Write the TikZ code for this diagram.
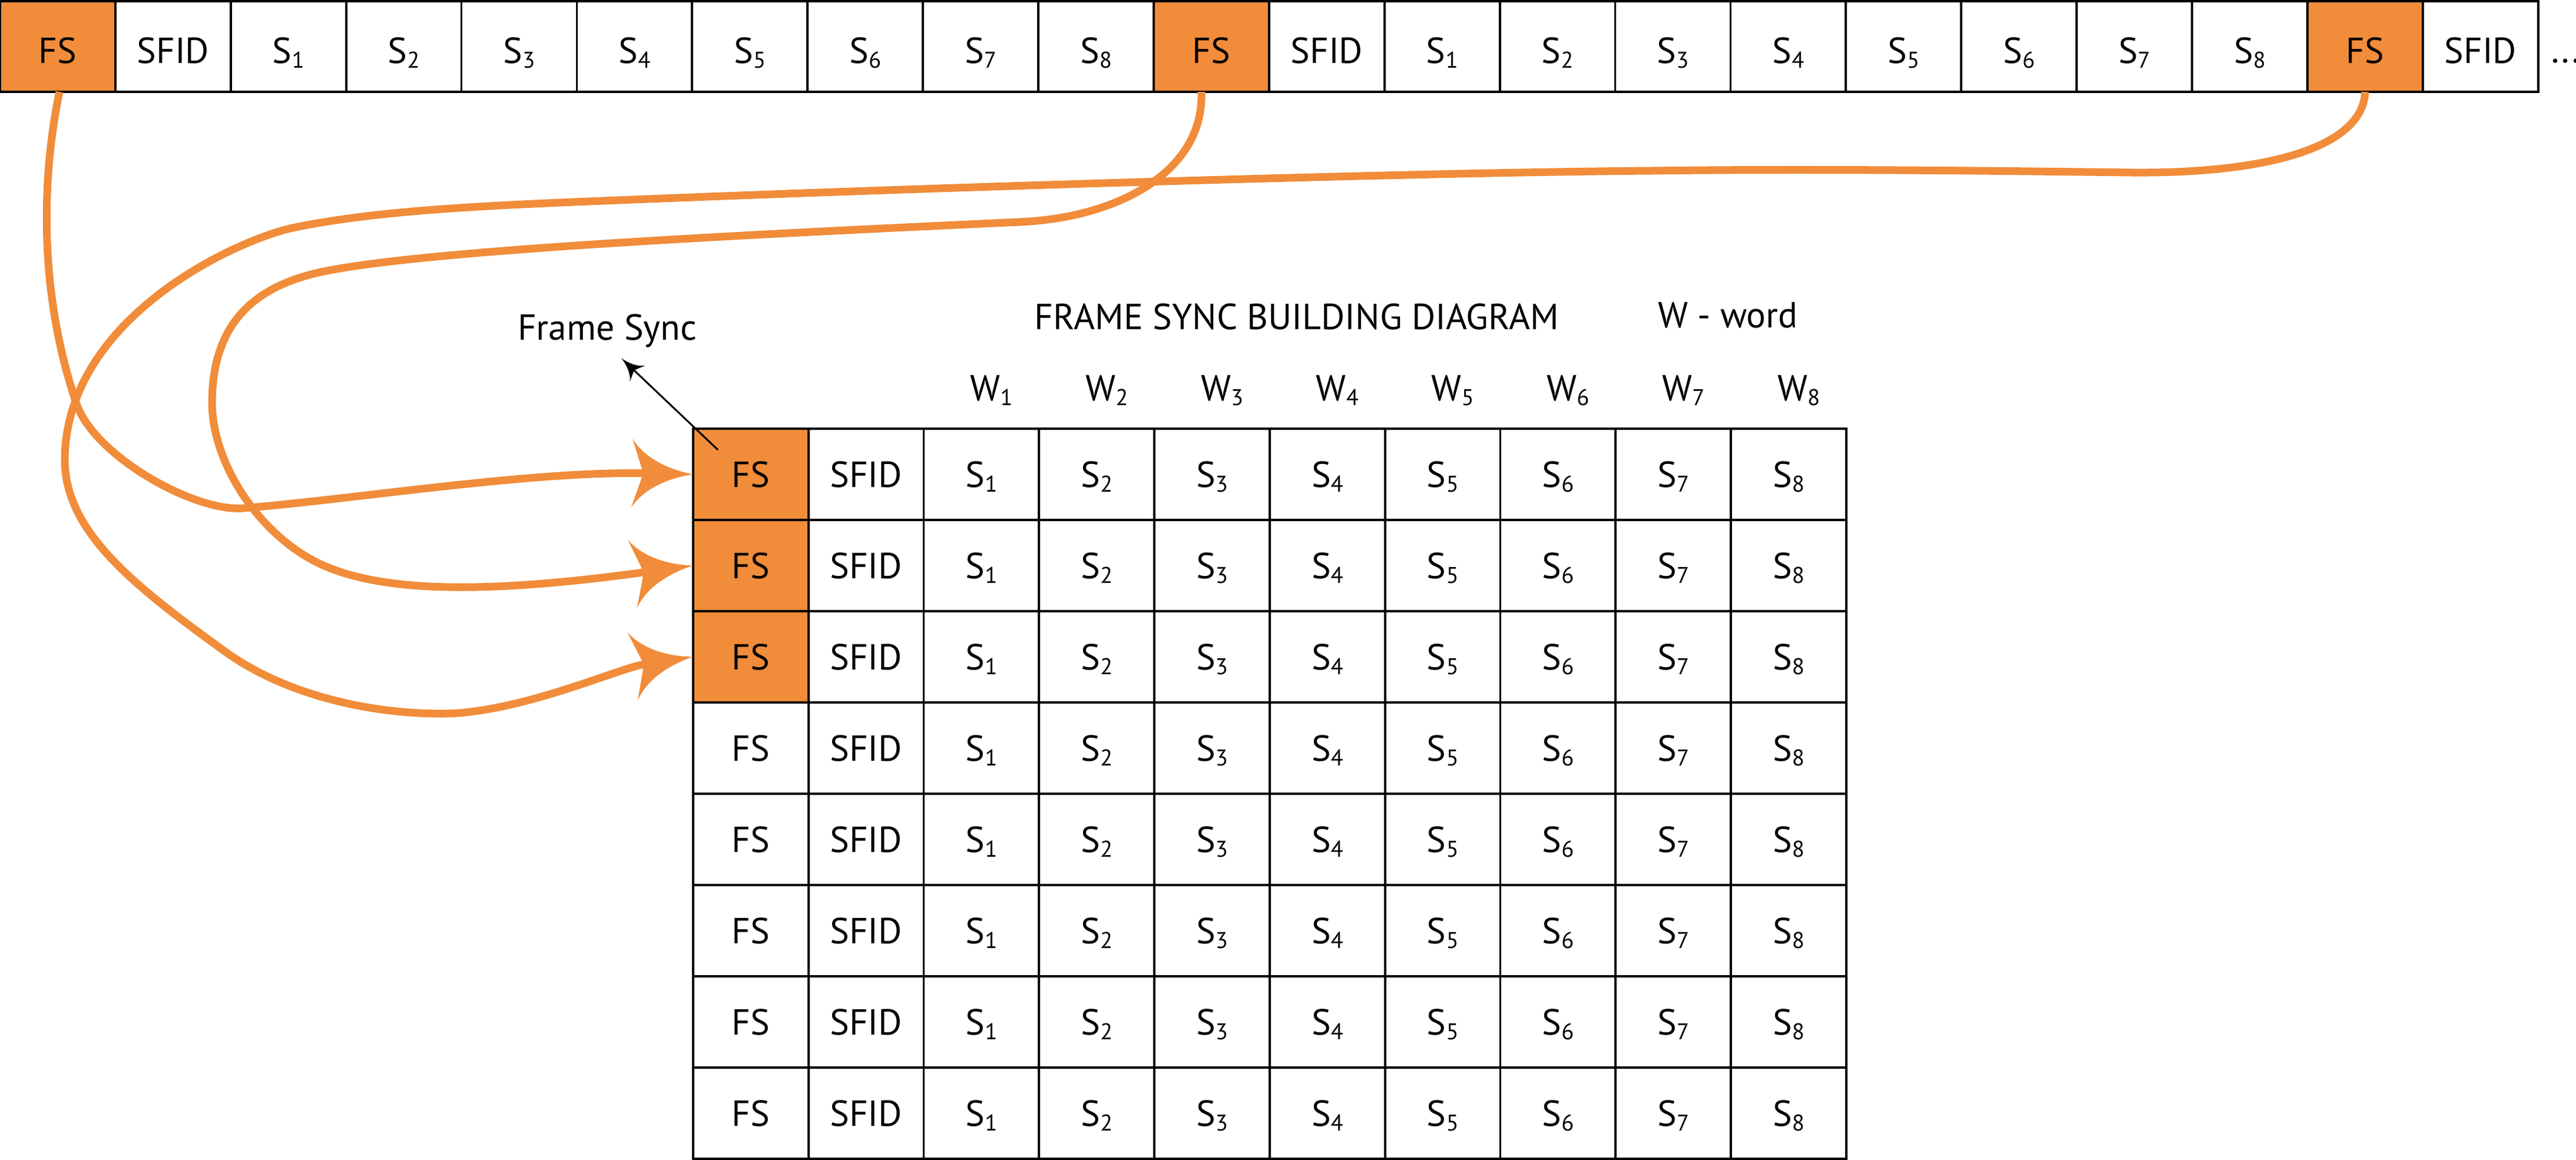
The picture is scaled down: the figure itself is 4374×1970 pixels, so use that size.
\documentclass[tikz,border=0pt]{standalone}
\usepackage{fontspec}
\setmainfont{PT Sans}
\usetikzlibrary{arrows.meta}
\definecolor{fsorange}{HTML}{F18C3A}

\pgfdeclarearrow{
  name = Swept,
  parameters = {\the\pgfarrowlength,\the\pgfarrowwidth,\the\pgfarrowinset},
  setup code = {
    \pgfarrowssettipend{\pgfarrowlength}
    \pgfarrowssetbackend{0pt}
    \pgfarrowssetlineend{\pgfarrowinset}
    \pgfarrowssetvisualbackend{\pgfarrowinset}
    \pgfarrowshullpoint{\pgfarrowlength}{0pt}
    \pgfarrowsupperhullpoint{0pt}{.5\pgfarrowwidth}
    \pgfarrowssavethe\pgfarrowlength
    \pgfarrowssavethe\pgfarrowwidth
    \pgfarrowssavethe\pgfarrowinset
  },
  drawing code = {
    \pgfpathmoveto{\pgfqpoint{\pgfarrowlength}{0pt}}
    \pgfpathcurveto{\pgfqpoint{.6\pgfarrowlength}{.06\pgfarrowwidth}}{\pgfqpoint{.2\pgfarrowlength}{.22\pgfarrowwidth}}{\pgfqpoint{0pt}{.5\pgfarrowwidth}}
    \pgfpathcurveto{\pgfqpoint{.4\pgfarrowinset}{.3\pgfarrowwidth}}{\pgfqpoint{.8\pgfarrowinset}{.12\pgfarrowwidth}}{\pgfqpoint{\pgfarrowinset}{0pt}}
    \pgfpathcurveto{\pgfqpoint{.8\pgfarrowinset}{-.12\pgfarrowwidth}}{\pgfqpoint{.4\pgfarrowinset}{-.3\pgfarrowwidth}}{\pgfqpoint{0pt}{-.5\pgfarrowwidth}}
    \pgfpathcurveto{\pgfqpoint{.2\pgfarrowlength}{-.22\pgfarrowwidth}}{\pgfqpoint{.6\pgfarrowlength}{-.06\pgfarrowwidth}}{\pgfqpoint{\pgfarrowlength}{0pt}}
    \pgfpathclose
    \pgfusepathqfill
  },
  defaults = {length = 1cm, width = 1cm, inset = 0.2cm}
}

\newcommand\wsub[1]{\raisebox{-0.08cm}{\fontsize{11}{13}\selectfont #1}}
\newcommand\celltext[1]{\ifcase#1 FS\or SFID\or S\wsub{1}\or S\wsub{2}\or S\wsub{3}\or S\wsub{4}\or S\wsub{5}\or S\wsub{6}\or S\wsub{7}\or S\wsub{8}\fi}

\tikzset{
  cell/.style={draw=black, line width=0.038cm, minimum width=1.959cm, minimum height=1.55cm,
    inner sep=0pt, outer sep=0pt, text height=0.43cm, text depth=0pt,
    font=\fontsize{17.5}{21}\selectfont},
  topcell/.style={cell, minimum width=1.959cm, minimum height=1.54cm, text height=0.56cm},
  lbl/.style={inner sep=0pt, anchor=base, font=\fontsize{17.5}{21}\selectfont},
  link/.style={color=fsorange, line width=0.13cm,
    -{Swept[length=1.04cm,width=1.17cm,inset=0.19cm]}},
  pointer/.style={color=black, line width=0.03cm,
    -{Swept[length=0.38cm,width=0.38cm,inset=0.08cm]}}
}

\begin{document}
\begin{tikzpicture}[x=0.01cm,y=-0.01cm]
\useasboundingbox (0,0) rectangle (4374,1970);

% top stream of cells
\foreach \i in {0,...,21}{
  \pgfmathtruncatemacro\k{mod(\i,10)}
  \edef\fillc{\ifnum\k=0 fsorange\else white\fi}
  \node[topcell, fill=\fillc] (t\i) at ({(\i+0.5)*195.9},79) {\celltext{\k}};
}
\node[lbl, anchor=base west] (dots) at (4332,107) {...};

% frame sync building table
\foreach \r in {0,...,7}{
  \foreach \c in {0,...,9}{
    \pgfmathtruncatemacro\orng{(\c==0)&&(\r<3)}
    \edef\fillc{\ifnum\orng=1 fsorange\else white\fi}
    \node[cell, fill=\fillc] (m-\r-\c) at ({1177+(\c+0.5)*195.8},{728+(\r+0.5)*155}) {\celltext{\c}};
  }
}

% headings
\node[lbl] (title) at (2202,560) {FRAME SYNC BUILDING DIAGRAM};
\node[lbl] (legend) at (2934,557) {W - word};
\foreach \w in {1,...,8}{
  \node[lbl] (w\w) at ({1177+(\w+1.5)*195.8+17},680) {W\wsub{\w}};
}
\node[lbl] (fslabel) at (1031,578) {Frame Sync};

% pointer to frame sync
\coordinate (fsp) at (1219,764);
\draw[pointer] (fsp) -- ([xshift=0.24cm,yshift=-0.17cm]fslabel.south);

% links from stream FS cells to table rows
\draw[link] ([xshift=0.03cm]t0.south) .. controls (75,280) and (60,480) .. (130,686)
  .. controls (160,774) and (330,870) .. (413,863)
  .. controls (600,848) and (900,800) .. (m-0-0.west);

\draw[link] ([xshift=-0.17cm]t10.south) .. controls (2045,290) and (1900,370) .. (1731,377)
  .. controls (1300,397) and (700,425) .. (536,464)
  .. controls (420,492) and (360,560) .. (360,686)
  .. controls (362,790) and (440,905) .. (536,954)
  .. controls (650,1012) and (850,1005) .. (m-1-0.west);

\draw[link] (t20.south) .. controls (4012,250) and (3850,295) .. (3620,293)
  .. controls (3450,291) and (3100,286) .. (2806,290)
  .. controls (2400,293) and (1600,318) .. (1100,338)
  .. controls (850,348) and (650,355) .. (497,387)
  .. controls (400,408) and (112,540) .. (110,780)
  .. controls (110,900) and (220,990) .. (383,1107)
  .. controls (480,1177) and (620,1212) .. (750,1212)
  .. controls (880,1212) and (1050,1135) .. (m-2-0.west);
\end{tikzpicture}
\end{document}
